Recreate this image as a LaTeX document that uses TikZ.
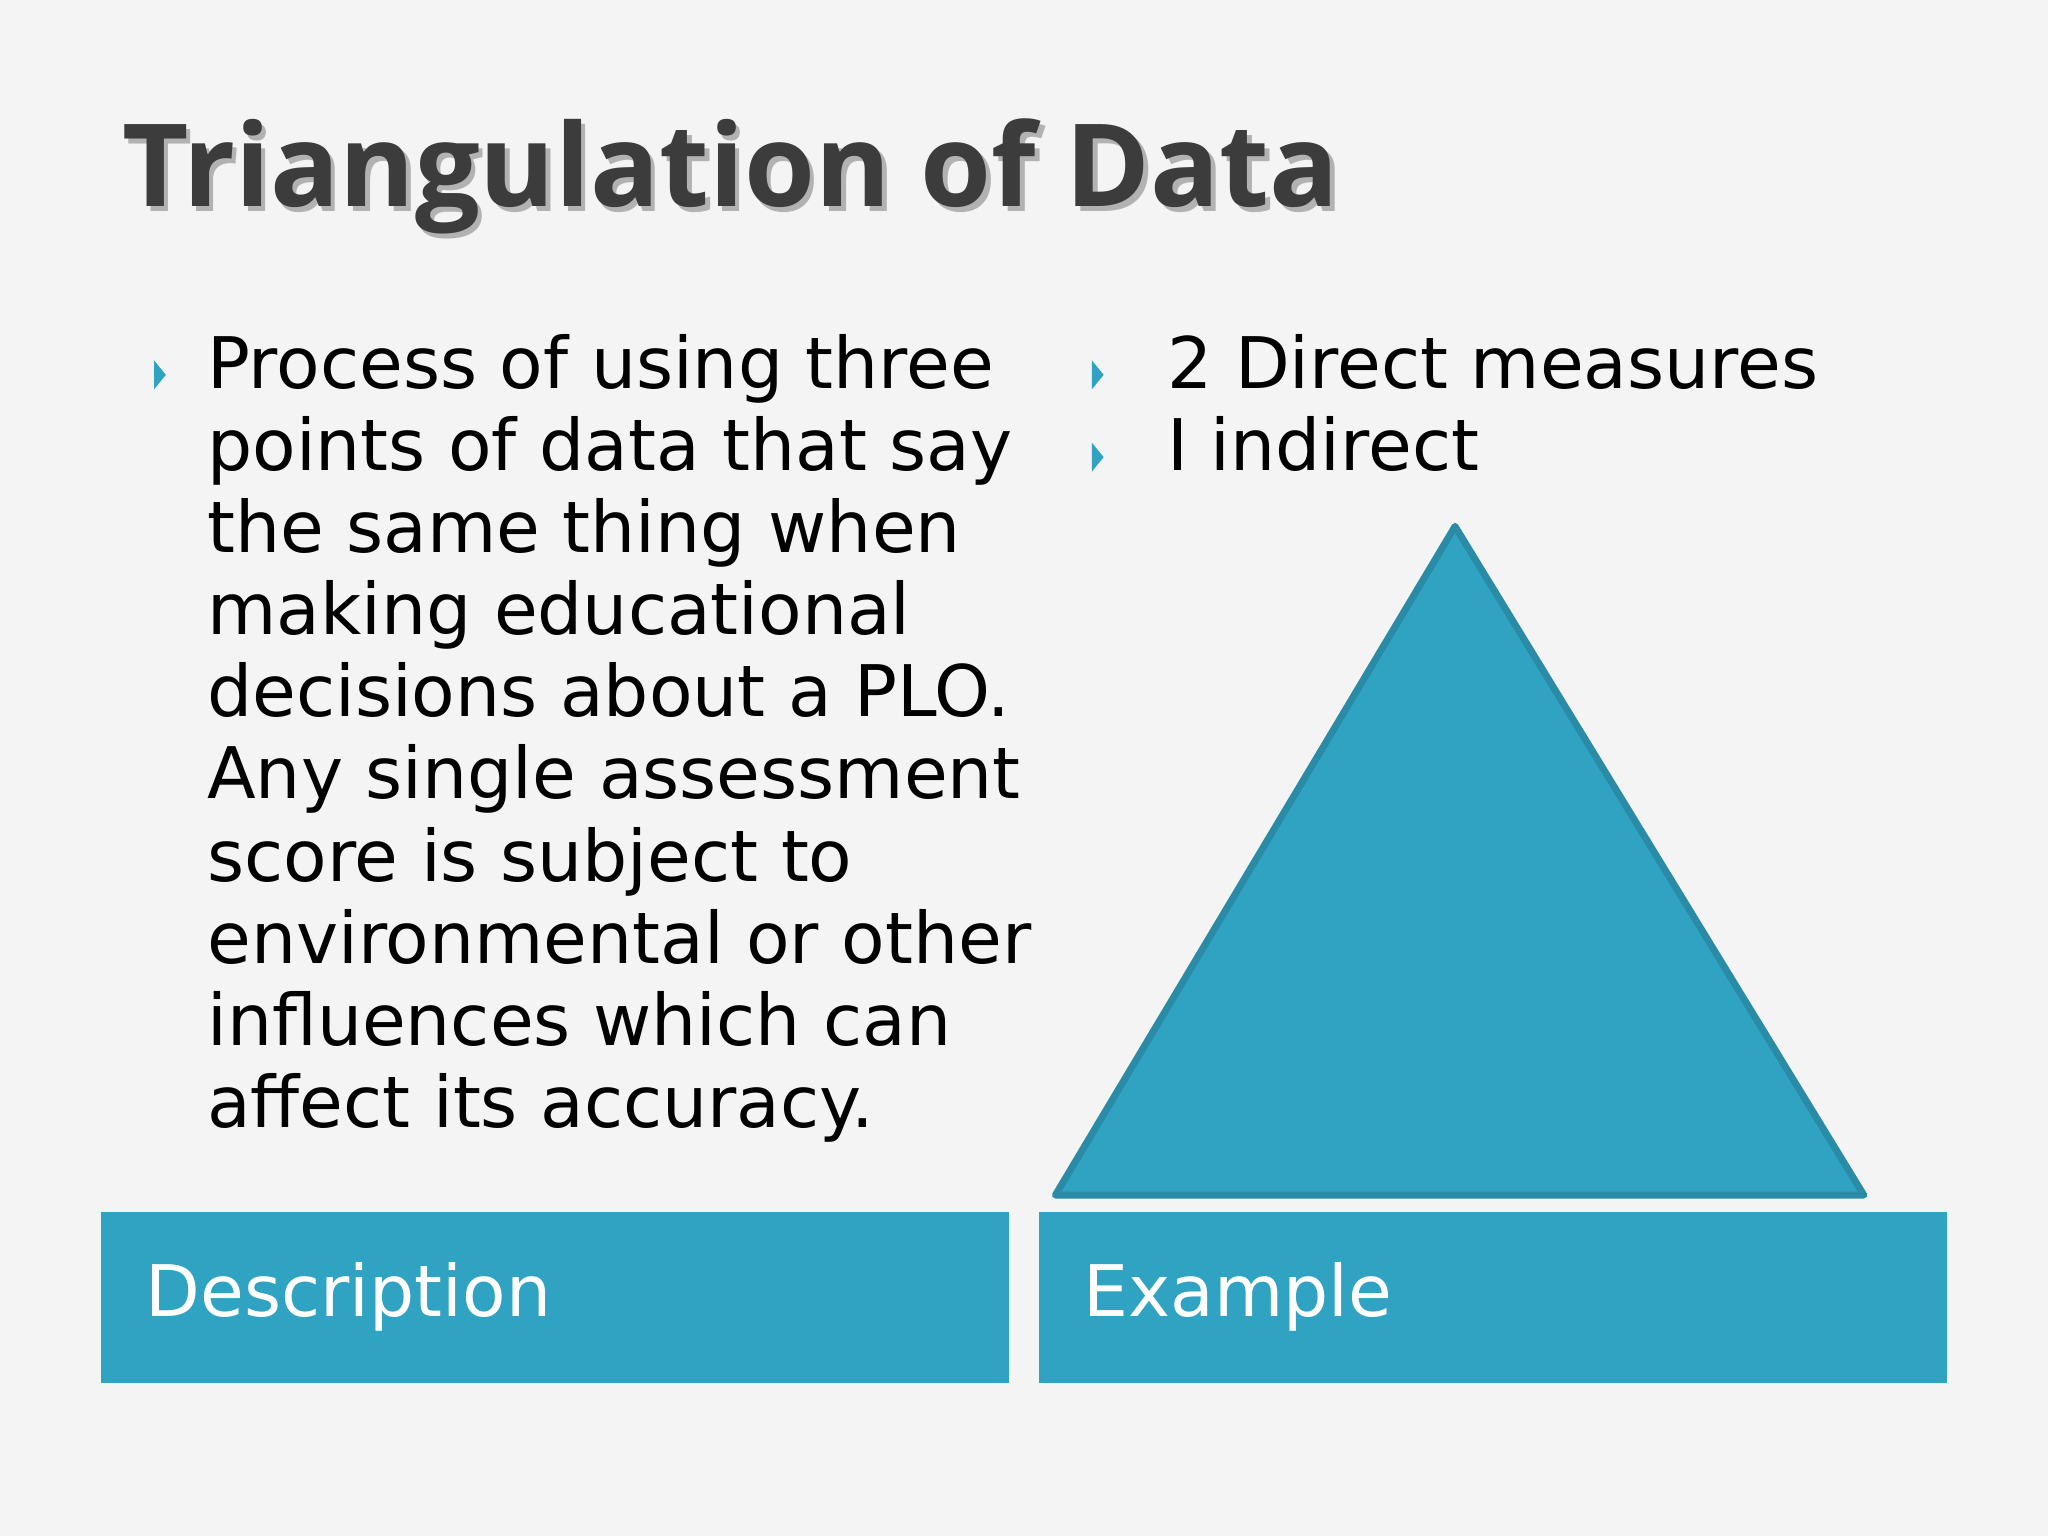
\documentclass[tikz,border=0pt]{standalone}
\usepackage{fontspec}
\setmainfont{DejaVu Sans}
\newfontfamily\titlefont{Open Sans}
\definecolor{teal1}{HTML}{2FA3C1}
\definecolor{tealdark}{HTML}{2A8BA6}
\definecolor{bg}{HTML}{F4F4F4}
\definecolor{titlec}{HTML}{3C3C3C}
\begin{document}
\begin{tikzpicture}[x=1cm,y=-1cm,
  body/.style={anchor=north west,inner sep=0pt,font=\fontsize{15.5}{17.9}\selectfont,align=left,text=black},
  bul/.style={fill=teal1,draw=none},
  band/.style={fill=teal1,draw=none,anchor=north west,inner sep=0pt,minimum width=6.95cm,minimum height=1.31cm},
  bandtxt/.style={anchor=west,inner sep=0pt,text=white,font=\fontsize{15.5}{18}\selectfont}]
\fill[bg] (0,0) rectangle (15.68,11.76);
\useasboundingbox (0,0) rectangle (15.68,11.76);
\node[anchor=west,inner sep=0pt,text=gray!60,font=\titlefont\fontsize{25}{30}\selectfont\bfseries] at (0.965,1.39) {Triangulation of Data};
\node (title) [anchor=west,inner sep=0pt,text=titlec,font=\titlefont\fontsize{25}{30}\selectfont\bfseries] at (0.93,1.35) {Triangulation of Data};
\node (desc) [body] at (1.58,2.55) {Process of using three\\points of data that say\\the same thing when\\making educational\\decisions about a PLO.\\Any single assessment\\score is subject to\\environmental or other\\influences which can\\affect its accuracy.};
\node (ex1) [body] at (8.93,2.55) {2 Direct measures};
\node (ex2) [body] at (8.93,3.18) {I indirect};
\fill[bul] (1.18,2.76) -- (1.27,2.87) -- (1.18,2.98) -- cycle;
\fill[bul] (8.36,2.76) -- (8.45,2.87) -- (8.36,2.98) -- cycle;
\fill[bul] (8.36,3.39) -- (8.45,3.50) -- (8.36,3.61) -- cycle;
\coordinate (apex) at (11.14,4.03);
\coordinate (bl) at (8.08,9.15);
\coordinate (br) at (14.27,9.15);
\filldraw[fill=teal1,draw=tealdark,line width=1.5pt,line join=round] (apex) -- (br) -- (bl) -- cycle;
\node (d) [band] at (0.77,9.27) {};
\node (e) [band] at (7.95,9.27) {};
\node [bandtxt] at ([xshift=0.34cm]d.west) {Description};
\node [bandtxt] at ([xshift=0.34cm]e.west) {Example};
\end{tikzpicture}
\end{document}
